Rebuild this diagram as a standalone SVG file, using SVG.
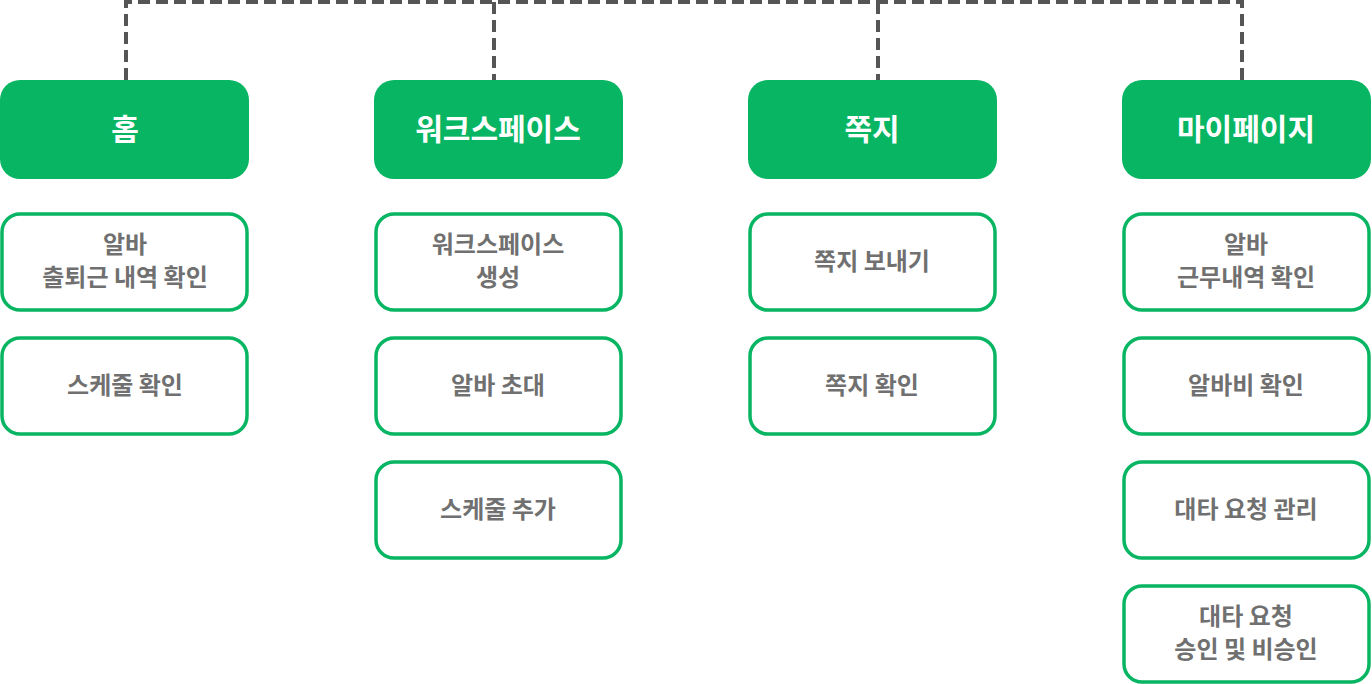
<svg xmlns="http://www.w3.org/2000/svg" width="1372" height="684" viewBox="0 0 1372 684">
<style>
.h{fill:#08B562}
.s{fill:#fff;stroke:#08B562;stroke-width:3.5}
.ht{font-family:"Noto Sans CJK KR",sans-serif;font-weight:700;font-size:30px;fill:#fff;text-anchor:middle}
.st{font-family:"Noto Sans CJK KR",sans-serif;font-weight:700;font-size:24px;fill:#707070;text-anchor:middle}
.c{fill:none;stroke:#555;stroke-width:4;stroke-dasharray:12 6}
</style>
<rect width="1372" height="684" fill="#fff"/>
<g id="connectors">
<path class="c" d="M126 80V2H1242V80"/>
<path class="c" d="M494 2V80M878 2V80"/>
</g>
<g id="n-home"><rect class="h" x="0" y="80" width="249" height="99" rx="20"/><text class="ht" x="125" y="140">홈</text></g>
<g id="n-ws"><rect class="h" x="374" y="80" width="249" height="99" rx="20"/><text class="ht" x="498" y="140">워크스페이스</text></g>
<g id="n-msg"><rect class="h" x="748" y="80" width="249" height="99" rx="20"/><text class="ht" x="872" y="140">쪽지</text></g>
<g id="n-my"><rect class="h" x="1122" y="80" width="249" height="99" rx="20"/><text class="ht" x="1246" y="140">마이페이지</text></g>

<g id="h1"><rect class="s" x="2" y="214" width="245" height="96" rx="18"/><text class="st" x="125" y="253">알바</text><text class="st" x="125" y="286">출퇴근 내역 확인</text></g>
<g id="h2"><rect class="s" x="2" y="338" width="245" height="96" rx="18"/><text class="st" x="125" y="394">스케줄 확인</text></g>

<g id="w1"><rect class="s" x="376" y="214" width="245" height="96" rx="18"/><text class="st" x="498" y="253">워크스페이스</text><text class="st" x="498" y="286">생성</text></g>
<g id="w2"><rect class="s" x="376" y="338" width="245" height="96" rx="18"/><text class="st" x="498" y="394">알바 초대</text></g>
<g id="w3"><rect class="s" x="376" y="462" width="245" height="96" rx="18"/><text class="st" x="498" y="518">스케줄 추가</text></g>

<g id="m1"><rect class="s" x="750" y="214" width="245" height="96" rx="18"/><text class="st" x="872" y="270">쪽지 보내기</text></g>
<g id="m2"><rect class="s" x="750" y="338" width="245" height="96" rx="18"/><text class="st" x="872" y="394">쪽지 확인</text></g>

<g id="p1"><rect class="s" x="1124" y="214" width="245" height="96" rx="18"/><text class="st" x="1246" y="253">알바</text><text class="st" x="1246" y="286">근무내역 확인</text></g>
<g id="p2"><rect class="s" x="1124" y="338" width="245" height="96" rx="18"/><text class="st" x="1246" y="394">알바비 확인</text></g>
<g id="p3"><rect class="s" x="1124" y="462" width="245" height="96" rx="18"/><text class="st" x="1246" y="518">대타 요청 관리</text></g>
<g id="p4"><rect class="s" x="1124" y="586" width="245" height="96" rx="18"/><text class="st" x="1246" y="625">대타 요청</text><text class="st" x="1246" y="658">승인 및 비승인</text></g>
</svg>
